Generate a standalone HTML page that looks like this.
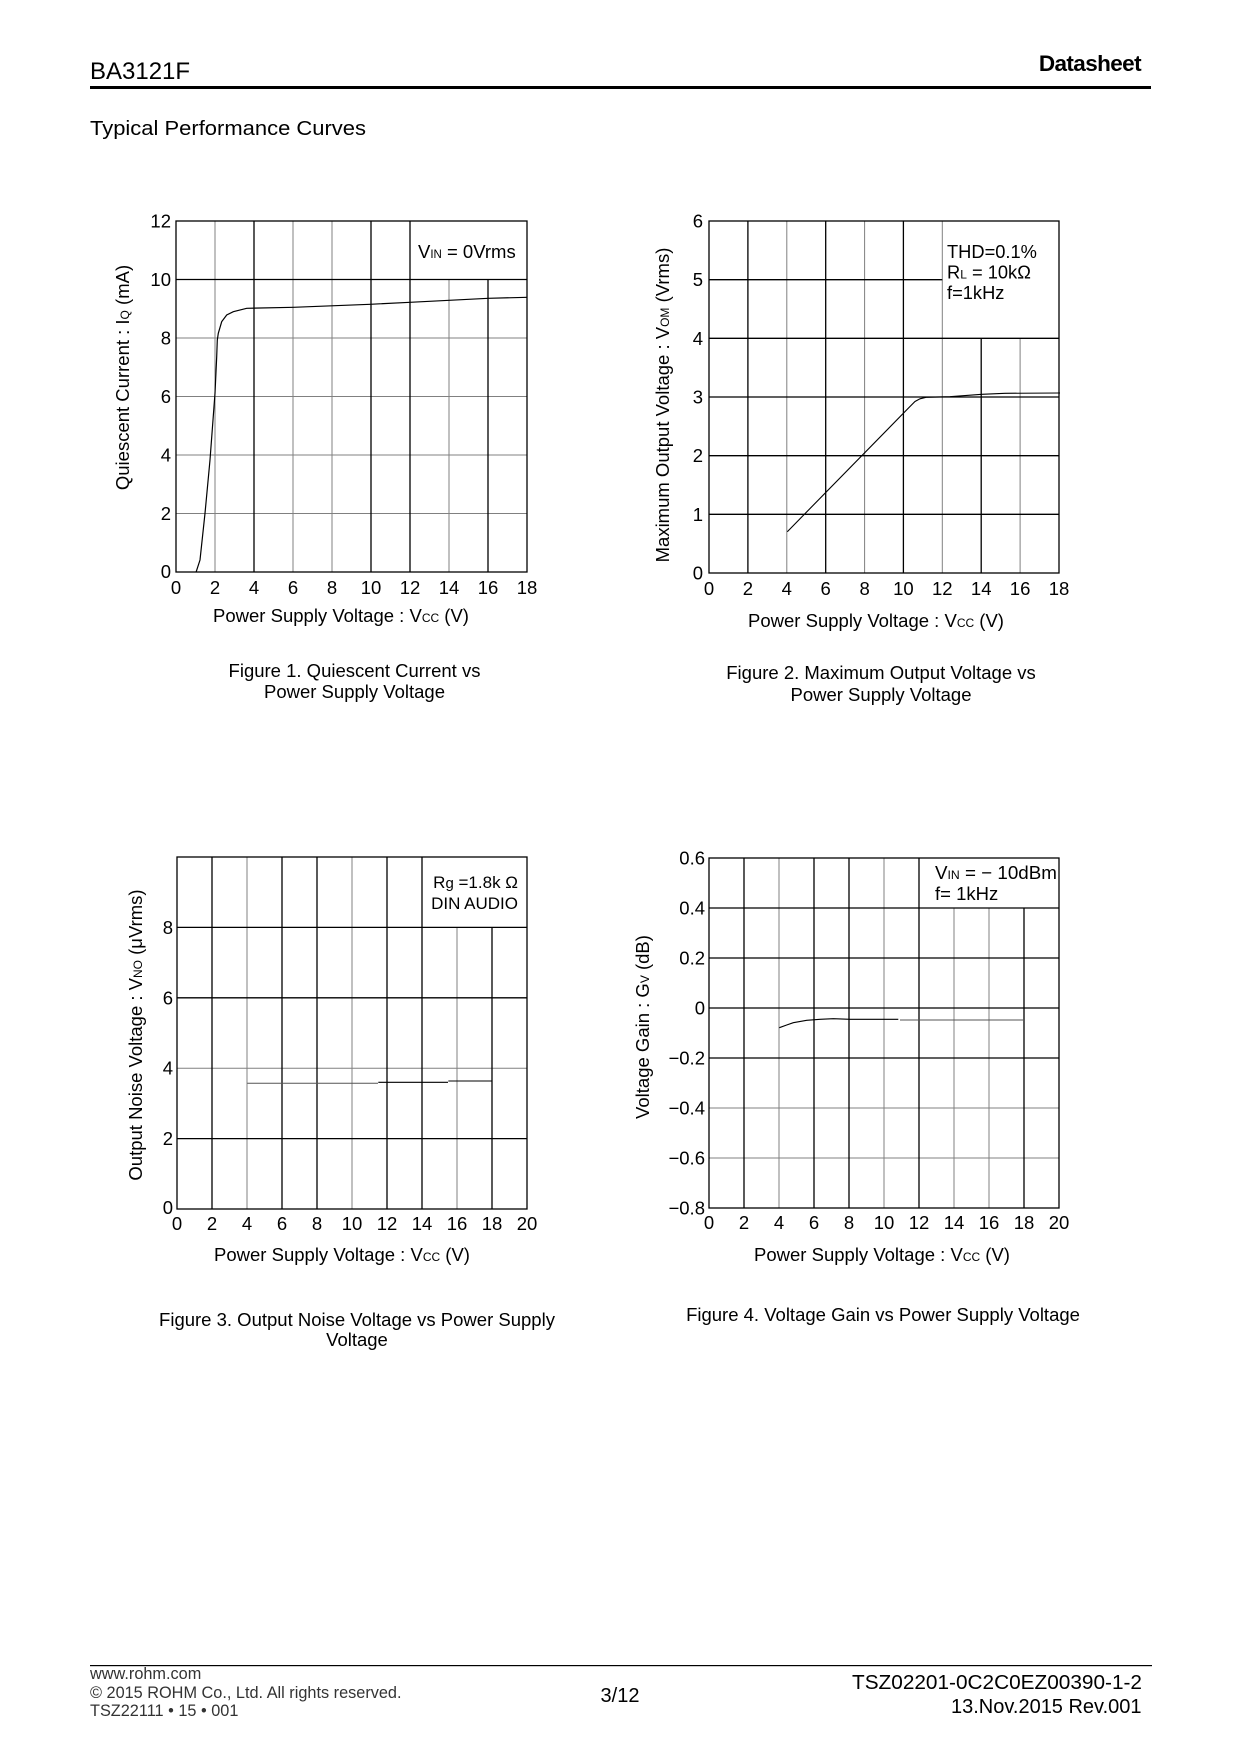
<!DOCTYPE html>
<html>
<head>
<meta charset="utf-8">
<style>
  html,body{margin:0;padding:0;background:#fff;}
  body{width:1240px;height:1754px;overflow:hidden;}
  svg{display:block;}
  text{font-family:"Liberation Sans", Arial, sans-serif;fill:#000;}
</style>
</head>
<body>
<svg width="1240" height="1754" viewBox="0 0 1240 1754" xmlns="http://www.w3.org/2000/svg">
  <rect x="0" y="0" width="1240" height="1754" fill="#fff"/>

  <!-- Header -->
  <text x="90" y="79" font-size="24">BA3121F</text>
  <text x="1141" y="71" font-size="22.5" font-weight="bold" text-anchor="end" letter-spacing="-0.6">Datasheet</text>
  <rect x="90" y="86" width="1061" height="3" fill="#000"/>
  <text x="90" y="135" font-size="20" textLength="276" lengthAdjust="spacingAndGlyphs">Typical Performance Curves</text>

  <!-- ================= Chart 1 ================= -->
  <g>
    <g stroke="#808080" stroke-width="1" fill="none">
      <line x1="176" y1="513.5" x2="527" y2="513.5"/>
      <line x1="176" y1="455" x2="527" y2="455"/>
      <line x1="176" y1="396.5" x2="527" y2="396.5"/>
      <line x1="176" y1="338" x2="527" y2="338"/>
      <line x1="215" y1="221" x2="215" y2="572"/>
      <line x1="293" y1="221" x2="293" y2="572"/>
      <line x1="332" y1="221" x2="332" y2="572"/>
      <line x1="449" y1="279.5" x2="449" y2="572"/>
    </g>
    <g stroke="#000" stroke-width="1.3" fill="none">
      <line x1="176" y1="279.5" x2="527" y2="279.5"/>
      <line x1="254" y1="221" x2="254" y2="572"/>
      <line x1="371" y1="221" x2="371" y2="572"/>
      <line x1="410" y1="221" x2="410" y2="572"/>
      <line x1="488" y1="279.5" x2="488" y2="572"/>
      <rect x="176" y="221" width="351" height="351"/>
    </g>
    <polyline fill="none" stroke="#000" stroke-width="1.2" points="196,572.3 200,560 205,513.3 210,460 215,393.3 216.7,356.7 217.3,340 218.3,333.3 221.7,321.7 226.7,315 233.3,311.7 246.7,308.3 293.3,307.3 370,304.3 410,302.3 488.3,298.3 527.3,297.3"/>
    <g font-size="18.5" text-anchor="end">
      <text x="171" y="578">0</text>
      <text x="171" y="520">2</text>
      <text x="171" y="461.5">4</text>
      <text x="171" y="403">6</text>
      <text x="171" y="344.5">8</text>
      <text x="171" y="286">10</text>
      <text x="171" y="227.5">12</text>
    </g>
    <g font-size="18.5" text-anchor="middle">
      <text x="176" y="594">0</text>
      <text x="215" y="594">2</text>
      <text x="254" y="594">4</text>
      <text x="293" y="594">6</text>
      <text x="332" y="594">8</text>
      <text x="371" y="594">10</text>
      <text x="410" y="594">12</text>
      <text x="449" y="594">14</text>
      <text x="488" y="594">16</text>
      <text x="527" y="594">18</text>
    </g>
    <text x="341" y="622" font-size="18.5" text-anchor="middle">Power Supply Voltage : V<tspan font-size="12">CC</tspan> (V)</text>
    <text transform="translate(129,377.5) rotate(-90)" font-size="18.5" text-anchor="middle">Quiescent Current : I<tspan font-size="12">Q</tspan> (mA)</text>
    <text x="418" y="258" font-size="18.5">V<tspan font-size="11.5">IN</tspan> = 0Vrms</text>
  </g>

  <!-- ================= Chart 2 ================= -->
  <g>
    <g stroke="#808080" stroke-width="1" fill="none">
      <line x1="786.8" y1="221" x2="786.8" y2="573"/>
      <line x1="864.6" y1="221" x2="864.6" y2="573"/>
      <line x1="942.3" y1="221" x2="942.3" y2="573"/>
      <line x1="1020.1" y1="338.3" x2="1020.1" y2="573"/>
    </g>
    <g stroke="#000" stroke-width="1.3" fill="none">
      <line x1="709" y1="514.3" x2="1059" y2="514.3"/>
      <line x1="709" y1="455.7" x2="1059" y2="455.7"/>
      <line x1="709" y1="397" x2="1059" y2="397"/>
      <line x1="709" y1="338.3" x2="1059" y2="338.3"/>
      <line x1="709" y1="279.7" x2="942.3" y2="279.7"/>
      <line x1="747.9" y1="221" x2="747.9" y2="573"/>
      <line x1="825.7" y1="221" x2="825.7" y2="573"/>
      <line x1="903.4" y1="221" x2="903.4" y2="573"/>
      <line x1="981.2" y1="338.3" x2="981.2" y2="573"/>
      <rect x="709" y="221" width="350" height="352"/>
    </g>
    <polyline fill="none" stroke="#000" stroke-width="1.1" points="787.3,531.7 910,406.5 915,401.5 920,398.8 926,397.3 950,396.7 981.7,394.3 1005,393.3 1060,393"/>
    <g font-size="18.5" text-anchor="end">
      <text x="703" y="579.5">0</text>
      <text x="703" y="520.8">1</text>
      <text x="703" y="462.2">2</text>
      <text x="703" y="403.5">3</text>
      <text x="703" y="344.8">4</text>
      <text x="703" y="286.2">5</text>
      <text x="703" y="227.5">6</text>
    </g>
    <g font-size="18.5" text-anchor="middle">
      <text x="709" y="595">0</text>
      <text x="747.9" y="595">2</text>
      <text x="786.8" y="595">4</text>
      <text x="825.7" y="595">6</text>
      <text x="864.6" y="595">8</text>
      <text x="903.4" y="595">10</text>
      <text x="942.3" y="595">12</text>
      <text x="981.2" y="595">14</text>
      <text x="1020.1" y="595">16</text>
      <text x="1059" y="595">18</text>
    </g>
    <text x="876" y="627" font-size="18.5" text-anchor="middle">Power Supply Voltage : V<tspan font-size="12">CC</tspan> (V)</text>
    <text transform="translate(669,405) rotate(-90)" font-size="18.5" text-anchor="middle">Maximum Output Voltage : V<tspan font-size="12">OM</tspan> (Vrms)</text>
    <g font-size="18.3">
      <text x="947" y="258">THD=0.1%</text>
      <text x="947" y="278.5">R<tspan font-size="12">L</tspan> = 10kΩ</text>
      <text x="947" y="299">f=1kHz</text>
    </g>
  </g>

  <!-- ================= Chart 3 ================= -->
  <g>
    <g stroke="#808080" stroke-width="1" fill="none">
      <line x1="177" y1="1068.2" x2="527" y2="1068.2"/>
      <line x1="247" y1="857" x2="247" y2="1209"/>
      <line x1="352" y1="857" x2="352" y2="1209"/>
      <line x1="457" y1="927.4" x2="457" y2="1209"/>
    </g>
    <g stroke="#000" stroke-width="1.3" fill="none">
      <line x1="177" y1="1138.6" x2="527" y2="1138.6"/>
      <line x1="177" y1="997.8" x2="527" y2="997.8"/>
      <line x1="177" y1="927.4" x2="527" y2="927.4"/>
      <line x1="212" y1="857" x2="212" y2="1209"/>
      <line x1="282" y1="857" x2="282" y2="1209"/>
      <line x1="317" y1="857" x2="317" y2="1209"/>
      <line x1="387" y1="857" x2="387" y2="1209"/>
      <line x1="422" y1="857" x2="422" y2="1209"/>
      <line x1="492" y1="927.4" x2="492" y2="1209"/>
      <rect x="177" y="857" width="350" height="352"/>
    </g>
    <polyline fill="none" stroke="#555" stroke-width="1" points="247.3,1083.3 310,1083.3 378,1083.3"/>
    <polyline fill="none" stroke="#000" stroke-width="1.1" points="378.3,1082.3 448,1082.3"/>
    <polyline fill="none" stroke="#000" stroke-width="1.1" points="448.3,1081 492.3,1081"/>
    <g font-size="18.5" text-anchor="end">
      <text x="173" y="1214">0</text>
      <text x="173" y="1145">2</text>
      <text x="173" y="1074.7">4</text>
      <text x="173" y="1004.3">6</text>
      <text x="173" y="934">8</text>
    </g>
    <g font-size="18.5" text-anchor="middle">
      <text x="177" y="1230">0</text>
      <text x="212" y="1230">2</text>
      <text x="247" y="1230">4</text>
      <text x="282" y="1230">6</text>
      <text x="317" y="1230">8</text>
      <text x="352" y="1230">10</text>
      <text x="387" y="1230">12</text>
      <text x="422" y="1230">14</text>
      <text x="457" y="1230">16</text>
      <text x="492" y="1230">18</text>
      <text x="527" y="1230">20</text>
    </g>
    <text x="342" y="1261" font-size="18.5" text-anchor="middle">Power Supply Voltage : V<tspan font-size="12">CC</tspan> (V)</text>
    <text transform="translate(142,1035) rotate(-90)" font-size="18.5" text-anchor="middle">Output Noise Voltage : V<tspan font-size="12">NO</tspan> (μVrms)</text>
    <g font-size="17">
      <text x="518" y="888" text-anchor="end">R<tspan font-size="15">g</tspan> =1.8k Ω</text>
      <text x="518" y="909" text-anchor="end">DIN AUDIO</text>
    </g>
  </g>

  <!-- ================= Chart 4 ================= -->
  <g>
    <g stroke="#808080" stroke-width="1" fill="none">
      <line x1="709" y1="1108" x2="1059" y2="1108"/>
      <line x1="709" y1="1158" x2="1059" y2="1158"/>
      <line x1="779" y1="858" x2="779" y2="1208"/>
      <line x1="884" y1="858" x2="884" y2="1208"/>
      <line x1="954" y1="908" x2="954" y2="1208"/>
      <line x1="989" y1="908" x2="989" y2="1208"/>
    </g>
    <g stroke="#000" stroke-width="1.3" fill="none">
      <line x1="709" y1="908" x2="1059" y2="908"/>
      <line x1="709" y1="958" x2="1059" y2="958"/>
      <line x1="709" y1="1008" x2="1059" y2="1008"/>
      <line x1="709" y1="1058" x2="1059" y2="1058"/>
      <line x1="744" y1="858" x2="744" y2="1208"/>
      <line x1="814" y1="858" x2="814" y2="1208"/>
      <line x1="849" y1="858" x2="849" y2="1208"/>
      <line x1="919" y1="858" x2="919" y2="1208"/>
      <line x1="1024" y1="908" x2="1024" y2="1208"/>
      <rect x="709" y="858" width="350" height="350"/>
    </g>
    <polyline fill="none" stroke="#000" stroke-width="1.1" points="779.3,1027.7 786.7,1025 793.3,1022.7 806.7,1020.3 820,1019.3 833.3,1018.7 850,1019.3 898.3,1019.3"/>
    <polyline fill="none" stroke="#555" stroke-width="1" points="900,1020 1024,1020"/>
    <g font-size="18.5" text-anchor="end">
      <text x="705" y="864.5">0.6</text>
      <text x="705" y="914.5">0.4</text>
      <text x="705" y="964.5">0.2</text>
      <text x="705" y="1014.5">0</text>
      <text x="705" y="1064.5">−0.2</text>
      <text x="705" y="1114.5">−0.4</text>
      <text x="705" y="1164.5">−0.6</text>
      <text x="705" y="1214.5">−0.8</text>
    </g>
    <g font-size="18.5" text-anchor="middle">
      <text x="709" y="1229">0</text>
      <text x="744" y="1229">2</text>
      <text x="779" y="1229">4</text>
      <text x="814" y="1229">6</text>
      <text x="849" y="1229">8</text>
      <text x="884" y="1229">10</text>
      <text x="919" y="1229">12</text>
      <text x="954" y="1229">14</text>
      <text x="989" y="1229">16</text>
      <text x="1024" y="1229">18</text>
      <text x="1059" y="1229">20</text>
    </g>
    <text x="882" y="1261" font-size="18.5" text-anchor="middle">Power Supply Voltage : V<tspan font-size="12">CC</tspan> (V)</text>
    <text transform="translate(649,1027) rotate(-90)" font-size="18.5" text-anchor="middle">Voltage Gain : G<tspan font-size="12">V</tspan> (dB)</text>
    <g font-size="18.5">
      <text x="935" y="879" textLength="122" lengthAdjust="spacingAndGlyphs">V<tspan font-size="12">IN</tspan> = − 10dBm</text>
      <text x="935" y="900">f= 1kHz</text>
    </g>
  </g>

  <!-- Captions -->
  <g font-size="18.5" text-anchor="middle">
    <text x="354.5" y="677">Figure 1. Quiescent Current vs</text>
    <text x="354.5" y="698">Power Supply Voltage</text>
    <text x="881" y="679">Figure 2. Maximum Output Voltage vs</text>
    <text x="881" y="701">Power Supply Voltage</text>
    <text x="357" y="1326">Figure 3. Output Noise Voltage vs Power Supply</text>
    <text x="357" y="1346">Voltage</text>
    <text x="883" y="1321">Figure 4. Voltage Gain vs Power Supply Voltage</text>
  </g>

  <!-- Footer -->
  <rect x="90" y="1665" width="1062" height="1.2" fill="#000"/>
  <g font-size="16.3">
    <text x="90" y="1679" style="fill:#333">www.rohm.com</text>
    <text x="90" y="1698" style="fill:#333">© 2015 ROHM Co., Ltd. All rights reserved.</text>
    <text x="90" y="1716" style="fill:#333">TSZ22111 • 15 • 001</text>
  </g>
  <text x="620" y="1702" font-size="20" text-anchor="middle">3/12</text>
  <text x="1142" y="1689" font-size="20" text-anchor="end" textLength="290" lengthAdjust="spacingAndGlyphs">TSZ02201-0C2C0EZ00390-1-2</text>
  <text x="1141.5" y="1713" font-size="20" text-anchor="end">13.Nov.2015 Rev.001</text>
</svg>
</body>
</html>
